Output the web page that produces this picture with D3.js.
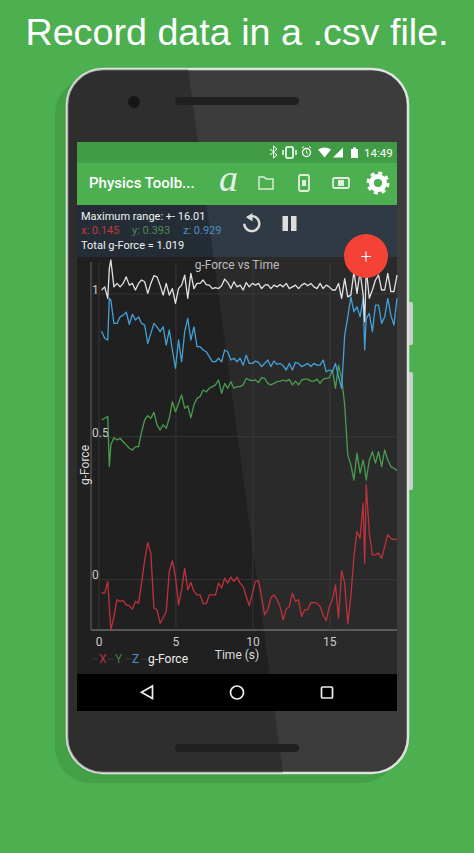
<!DOCTYPE html>
<html>
  <head>
    <meta charset="utf-8">
    <title>Physics Toolbox g-Force</title>
    <style>
      html, body { margin: 0; padding: 0; background: #4caf50; }
      svg { display: block; }
      text { font-family: Roboto, sans-serif; }
    </style>
    <script src="https://d3js.org/d3.v7.min.js"></script>
  </head>
  <body>
    <svg id="screenshot"></svg>
    <script>
      // Sample times in seconds, shared by all four traces
      let times = [
        0.2, 0.4, 0.6, 0.7, 0.8, 1.0, 1.2, 1.4, 1.6, 1.8,
        2.0, 2.2, 2.4, 2.6, 2.8, 3.0, 3.2, 3.4, 3.6, 3.8,
        4.0, 4.2, 4.4, 4.6, 4.8, 5.0, 5.2, 5.4, 5.6, 5.8,
        6.0, 6.2, 6.4, 6.6, 6.8, 7.0, 7.2, 7.4, 7.6, 7.8,
        8.0, 8.2, 8.4, 8.6, 8.8, 9.0, 9.2, 9.4, 9.6, 9.8,
        10.0, 10.2, 10.4, 10.6, 10.8, 11.0, 11.2, 11.4, 11.6, 11.8,
        12.0, 12.2, 12.4, 12.6, 12.8, 13.0, 13.2, 13.4, 13.6, 13.8,
        14.0, 14.2, 14.4, 14.6, 14.8, 15.0, 15.2, 15.4, 15.6, 15.8,
        16.0, 16.2, 16.4, 16.6, 16.8, 17.0, 17.2, 17.3, 17.4, 17.6,
        17.8, 18.0, 18.2, 18.4, 18.6, 18.8, 19.0, 19.2, 19.4
      ];

      let xValues = [
        -.047, -.049, -.008, -.096, -.177, -.131, -.072, -.078, -.075, -.090,
        -.093, -.105, -.078, -.084, -.014, .068, .128, .091, -.101, -.107,
        -.154, -.136, -.113, .027, .065, .009, -.090, -.037, .038, -.037,
        -.012, -.043, -.055, -.055, -.086, -.086, -.055, -.055, -.055, -.014,
        -.031, .003, -.014, .007, -.008, .007, -.014, -.026, -.061, -.093,
        -.049, -.008, -.006, -.061, -.125, -.107, -.066, -.055, -.072, -.096,
        -.142, -.105, -.096, -.049, -.078, -.072, -.131, -.107, -.107, -.082,
        -.082, -.084, -.096, -.125, -.145, -.096, -.072, -.020, -.136, .030,
        -.014, -.156, -.061, .079, .167, .143, .266, .056, .330, .161,
        .085, .085, .091, .073, .114, .155, .143, .138, .140
      ];

      let yValues = [
        .557, .563, .569, .394, .470, .495, .487, .493, .481, .470,
        .458, .452, .464, .464, .516, .557, .572, .563, .584, .540,
        .522, .540, .528, .563, .621, .586, .615, .645, .598, .607,
        .565, .610, .633, .639, .662, .656, .668, .674, .680, .697,
        .650, .685, .668, .691, .668, .674, .674, .680, .703, .697,
        .695, .697, .688, .705, .703, .685, .680, .685, .691, .693,
        .697, .693, .699, .680, .693, .680, .697, .700, .700, .693,
        .693, .700, .685, .700, .703, .705, .732, .668, .749, .703,
        .610, .435, .400, .347, .441, .371, .417, .388, .347, .417,
        .446, .406, .446, .394, .452, .417, .394, .388, .380
      ];

      let zValues = [
        .868, .843, .837, .983, .977, .895, .895, .918, .924, .934,
        .892, .927, .907, .918, .895, .889, .825, .860, .895, .883,
        .866, .883, .819, .872, .802, .738, .837, .761, .866, .913,
        .837, .883, .814, .814, .802, .796, .779, .761, .761, .773,
        .761, .802, .796, .767, .773, .761, .773, .749, .784, .755,
        .755, .763, .759, .744, .755, .767, .744, .763, .752, .755,
        .747, .732, .755, .732, .759, .755, .744, .749, .755, .744,
        .755, .749, .749, .767, .726, .732, .726, .755, .709, .668,
        .854, .918, .988, .936, .953, .918, .983, .802, .913, .930,
        .866, .959, .959, .895, .918, .983, .924, .889, .983
      ];

      let totalValues = [
        1.012, 1.023, .983, 1.087, 1.117, 1.023, 1.035, 1.023, 1.035, 1.058,
        1.029, 1.035, 1.012, 1.035, 1.047, 1.041, 1.000, 1.035, 1.062, 1.058,
        1.029, .994, 1.035, .994, 1.017, .965, 1.017, 1.029, 1.064, .983,
        1.070, 1.017, 1.035, 1.035, 1.047, 1.031, 1.029, 1.017, 1.020, 1.017,
        1.027, 1.050, 1.038, 1.017, 1.041, 1.023, 1.029, 1.012, 1.038, 1.023,
        1.035, 1.029, 1.035, 1.017, 1.029, 1.031, 1.017, 1.029, 1.023, 1.031,
        1.023, 1.035, 1.017, 1.023, 1.029, 1.017, 1.029, 1.035, 1.027, 1.035,
        1.023, 1.017, 1.035, 1.017, 1.029, 1.023, 1.012, 1.012, 1.035, .983,
        1.052, .988, .994, 1.076, 1.000, 1.076, .994, .901, 1.087, .983,
        1.012, 1.047, 1.064, 1.012, 1.012, 1.070, 1.006, 1.006, 1.064
      ];

      let xTicks = [0, 5, 10, 15];
      let yTicks = [0, 0.5, 1];
      let yTickLabels = ['0', '0.5', '1'];

      let svg = d3.select('#screenshot').attr('width', 474).attr('height', 853);

      // helper so the mock-up shapes stay short
      function shape(parent, tag, attrs) {
        let el = parent.append(tag);
        Object.keys(attrs).forEach(k => el.attr(k, attrs[k]));
        return el;
      }
      function label(parent, x, y, str, size, fill, extra) {
        let el = parent.append('text').attr('x', x).attr('y', y)
          .attr('font-size', size).attr('fill', fill).text(str);
        Object.keys(extra || {}).forEach(k => el.attr(k, extra[k]));
        return el;
      }

      // Page background and headline
      shape(svg, 'rect', {width: 474, height: 853, fill: '#4caf50'});
      label(svg, 237, 45, 'Record data in a .csv file.', 37.7, '#fff', {'text-anchor': 'middle'})
        .style('font-family', '"Liberation Sans", sans-serif');

      // Phone: shadow, side buttons, body
      shape(svg, 'rect', {x: 55, y: 78, width: 342, height: 705, rx: 36, fill: '#43a047'});
      shape(svg, 'rect', {x: 406, y: 302, width: 7, height: 43, rx: 2, fill: '#c9cfc9'});
      shape(svg, 'rect', {x: 406, y: 372, width: 7, height: 118, rx: 2, fill: '#c9cfc9'});
      shape(svg, 'rect', {x: 67, y: 69, width: 341, height: 704, rx: 36, fill: '#3c3c3c', stroke: '#dfe3df', 'stroke-width': 2.5});

      // Screen backgrounds
      shape(svg, 'rect', {x: 77, y: 205, width: 320, height: 52, fill: '#2f3a45'});
      shape(svg, 'rect', {x: 77, y: 257, width: 320, height: 417, fill: '#2a2a2a'});
      shape(svg, 'rect', {x: 77, y: 674, width: 320, height: 37, fill: '#000'});

      // Diagonal reflection darkens the left part of the phone
      svg.append('clipPath').attr('id', 'phone-clip')
        .append('rect').attr('x', 67).attr('y', 69).attr('width', 341).attr('height', 704).attr('rx', 36);
      svg.append('polygon')
        .attr('points', '60,60 187,60 284,780 60,780')
        .attr('fill', 'rgba(0,0,0,0.22)')
        .attr('clip-path', 'url(#phone-clip)');

      // The green bars hardly show the reflection, so they go on top of it
      shape(svg, 'rect', {x: 77, y: 142, width: 320, height: 21, fill: '#419c46'});
      shape(svg, 'rect', {x: 77, y: 163, width: 320, height: 42, fill: '#4caf50'});

      // Camera and speakers
      shape(svg, 'circle', {cx: 134, cy: 102, r: 6, fill: '#161616'});
      shape(svg, 'rect', {x: 175, y: 97, width: 124, height: 8, rx: 4, fill: '#202020'});
      shape(svg, 'rect', {x: 175, y: 744, width: 124, height: 8, rx: 4, fill: '#202020'});

      // Status bar icons
      let status = svg.append('g').attr('fill', '#fff').attr('stroke', '#fff');
      shape(status, 'path', {d: 'M270 149l7 6-3.5 3v-12l3.5 3-7 6', fill: 'none', 'stroke-width': 1});
      shape(status, 'rect', {x: 286, y: 147, width: 7, height: 11, rx: 1, fill: 'none', 'stroke-width': 1.6});
      shape(status, 'path', {d: 'M283 150v5M296 150v5', fill: 'none', 'stroke-width': 1.4});
      shape(status, 'circle', {cx: 306.5, cy: 152.5, r: 4, fill: 'none', 'stroke-width': 1.3});
      shape(status, 'path', {d: 'M302 148l2-1.5M311 148l-2-1.5M306.5 150.5v2.2l1.6 1', fill: 'none', 'stroke-width': 1});
      shape(status, 'path', {d: 'M318 149.5q6.5-4 13 0l-6.5 8z', stroke: 'none'});
      shape(status, 'path', {d: 'M333 157.5l10-10v10z', stroke: 'none'});
      shape(status, 'rect', {x: 351, y: 149, width: 7, height: 9, stroke: 'none'});
      shape(status, 'rect', {x: 353, y: 147.5, width: 3, height: 2, stroke: 'none'});
      label(svg, 364, 156.5, '14:49', 11.5, '#fff');

      // Toolbar
      label(svg, 89, 188, 'Physics Toolb...', 15, '#fff', {'font-weight': 500});
      label(svg, 219, 191, 'a', 38, '#e4f1e4', {'font-style': 'italic'}).style('font-family', '"Liberation Serif", serif');
      let tools = svg.append('g').attr('fill', 'none').attr('stroke', '#dfeedd').attr('stroke-width', 1.4);
      shape(tools, 'path', {d: 'M259 177h5l2 2h7v10h-14z'});
      shape(tools, 'rect', {x: 299, y: 175, width: 10, height: 16, rx: 1.5, 'stroke-width': 1.8});
      shape(tools, 'rect', {x: 302, y: 180, width: 4, height: 6, fill: '#dfeedd', stroke: 'none'});
      shape(tools, 'rect', {x: 333, y: 178, width: 16, height: 10, rx: 1.5, 'stroke-width': 1.8});
      shape(tools, 'rect', {x: 338, y: 180, width: 6, height: 6, fill: '#dfeedd', stroke: 'none'});
      // Gear
      shape(svg, 'circle', {cx: 378, cy: 183, r: 6.6, fill: 'none', stroke: '#fff', 'stroke-width': 5});
      shape(svg, 'circle', {cx: 378, cy: 183, r: 10, fill: 'none', stroke: '#fff', 'stroke-width': 3, 'stroke-dasharray': '4 3.85'});

      // Live readouts
      label(svg, 81, 220, 'Maximum range: +- 16.01', 11, '#f2f2f2');
      label(svg, 81, 234, 'x: 0.145', 11, '#c43a3c');
      label(svg, 132, 234, 'y: 0.393', 11, '#4f8a55');
      label(svg, 183, 234, 'z: 0.929', 11, '#4f8fc4');
      label(svg, 81, 249, 'Total g-Force = 1.019', 11, '#f2f2f2');

      // Reset and pause buttons
      shape(svg, 'path', {d: 'M247.5 217.5a7.5 7.5 0 1 1 -3.2 6.2', fill: 'none', stroke: '#ddd', 'stroke-width': 2.4});
      shape(svg, 'path', {d: 'M252.5 213v8.5l-6.5-4.2z', fill: '#ddd'});
      shape(svg, 'rect', {x: 282.5, y: 216, width: 5.5, height: 15, fill: '#ddd'});
      shape(svg, 'rect', {x: 291, y: 216, width: 5.5, height: 15, fill: '#ddd'});

      // Chart scales: 15.37 px per second, 286 px per g
      let xScale = d3.scaleLinear().domain([-0.49, 19.4]).range([91, 397]);
      let yScale = d3.scaleLinear().domain([-0.178, 1.11]).range([630, 262]);

      // Axes with full-length ticks doubling as the grid
      let xAxis = svg.append('g')
        .attr('transform', 'translate(0,630)')
        .call(d3.axisBottom(xScale).tickValues(xTicks).tickSize(-368).tickPadding(7).tickFormat(d3.format('d')));
      let yAxis = svg.append('g')
        .attr('transform', 'translate(91,0)')
        .call(d3.axisRight(yScale).tickValues(yTicks).tickSize(306)
          .tickFormat((d, i) => yTickLabels[i]));

      xAxis.selectAll('.tick line').attr('stroke', '#3f3f3f').attr('stroke-width', 0.7);
      yAxis.selectAll('.tick line').attr('stroke', '#3f3f3f').attr('stroke-width', 0.7);
      xAxis.select('.domain').attr('d', 'M91,0H397').attr('stroke', '#8c8c8c').attr('stroke-width', 1);
      yAxis.select('.domain').attr('d', 'M0,262V630').attr('stroke', '#666').attr('stroke-width', 1);
      xAxis.selectAll('text').attr('fill', '#ccc').attr('font-size', 12).attr('font-family', 'Roboto, sans-serif');
      yAxis.selectAll('text').attr('fill', '#ccc').attr('font-size', 12).attr('font-family', 'Roboto, sans-serif')
        .attr('x', 1).attr('dy', '-0.02em').attr('text-anchor', 'start');

      // The traces
      let line = d3.line()
        .x((d, i) => xScale(times[i]))
        .y(d => yScale(d));

      let traces = [
        {values: xValues, color: '#bd323d'},
        {values: yValues, color: '#4a9c50'},
        {values: zValues, color: '#45a0d6'},
        {values: totalValues, color: '#e2e2e2'}
      ];
      svg.append('g').selectAll('path')
        .data(traces)
        .enter().append('path')
        .attr('fill', 'none')
        .attr('stroke-width', 1.3)
        .attr('stroke-linejoin', 'round')
        .attr('stroke', d => d.color)
        .attr('d', d => line(d.values));

      // Chart labels
      label(svg, 237, 269, 'g-Force vs Time', 12, '#bdbdbd', {'text-anchor': 'middle'});
      label(svg, 237, 659, 'Time (s)', 12, '#ddd', {'text-anchor': 'middle'});
      label(svg, 0, 0, 'g-Force', 12, '#ddd', {
        'text-anchor': 'middle',
        transform: 'translate(89,465) rotate(-90)'
      });

      // Legend
      let legendItems = [
        {name: 'X', color: '#b8343c', x: 99},
        {name: 'Y', color: '#3f7f45', x: 115},
        {name: 'Z', color: '#4a8fc4', x: 132},
        {name: 'g-Force', color: '#eee', x: 148}
      ];
      legendItems.forEach(d => {
        shape(svg, 'line', {x1: d.x - 7, x2: d.x - 1, y1: 659, y2: 659, stroke: '#3a3a3a', 'stroke-width': 1});
        label(svg, d.x, 663, d.name, 12, d.color);
      });

      // Floating action button
      shape(svg, 'circle', {cx: 366, cy: 256, r: 22, fill: '#f44336'});
      shape(svg, 'path', {d: 'M361 256.5h10M366 251.5v10', stroke: '#fff', 'stroke-width': 1.2});

      // Nav bar
      let nav = svg.append('g').attr('fill', 'none').attr('stroke', '#eee').attr('stroke-width', 1.7);
      shape(nav, 'path', {d: 'M152.5 686v12.5l-11-6.2z'});
      shape(nav, 'circle', {cx: 237, cy: 692.5, r: 6.5});
      shape(nav, 'rect', {x: 321.5, y: 687, width: 11, height: 11, rx: 1});
    </script>
  </body>
</html>
